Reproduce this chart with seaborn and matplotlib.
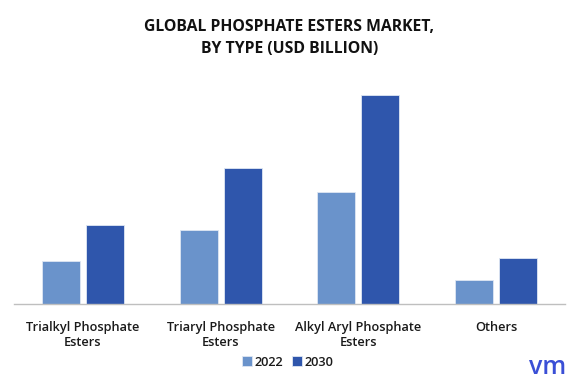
import numpy as np
import pandas as pd
import seaborn as sns
import matplotlib.pyplot as plt

# data (relative units)
categories = ["Trialkyl Phosphate\nEsters", "Triaryl Phosphate\nEsters",
              "Alkyl Aryl Phosphate\nEsters", "Others"]
years = ["2022", "2030"]
values_2022 = [0.43, 0.74, 1.12, 0.24]
values_2030 = [0.79, 1.36, 2.09, 0.46]

df = pd.DataFrame({
    "type": categories * 2,
    "year": [years[0]] * 4 + [years[1]] * 4,
    "value": values_2022 + values_2030,
})

sns.set_theme(style="white")
plt.rcParams['font.family'] = ['Open Sans', 'DejaVu Sans']

fig = plt.figure(figsize=(5.79, 3.83), dpi=100)
ax = fig.add_axes([14 / 579, 1 - 304 / 383, 551 / 579, 219 / 383])

palette = {"2022": "#6a93cb", "2030": "#2f56ac"}
sns.barplot(data=df, x="type", y="value", hue="year", palette=palette,
            width=0.64, gap=0.14, edgecolor="#dfe7f3", linewidth=0.6,
            saturation=1, ax=ax)

ax.set_ylim(0, 2.19)
ax.set_xlim(-0.5, 3.5)
ax.set_yticks([])
ax.set_xlabel("")
ax.set_ylabel("")
for side in ["top", "left", "right"]:
    ax.spines[side].set_visible(False)
ax.spines["bottom"].set_color("#bfbfbf")
ax.spines["bottom"].set_linewidth(1)
ax.tick_params(axis="x", length=0, pad=12)
ax.set_xticklabels(categories, fontsize=9.2, fontweight="semibold",
                   color="#1a1a1a", linespacing=1.2)

leg = ax.legend(loc="center", bbox_to_anchor=(0.497, -58 / 219), ncol=2,
                frameon=False, fontsize=9.2, handlelength=0.8, handleheight=0.8,
                handletextpad=0.2, columnspacing=0.7)
for t in leg.get_texts():
    t.set_fontweight("semibold")
    t.set_color("#1a1a1a")

fig.text(0.5, 1 - 38 / 383, "GLOBAL PHOSPHATE ESTERS MARKET,\nBY TYPE (USD BILLION)",
         ha="center", va="center", fontsize=11.3, fontweight="bold",
         color="#111111", linespacing=1.45)

fig.text(548 / 579, 1 - 367 / 383, "vm", ha="center", va="center", fontsize=18,
         color="#3a4fd6", fontweight="semibold", family=["Open Sans", "DejaVu Sans"])

fig.savefig("out.png", dpi=100)
